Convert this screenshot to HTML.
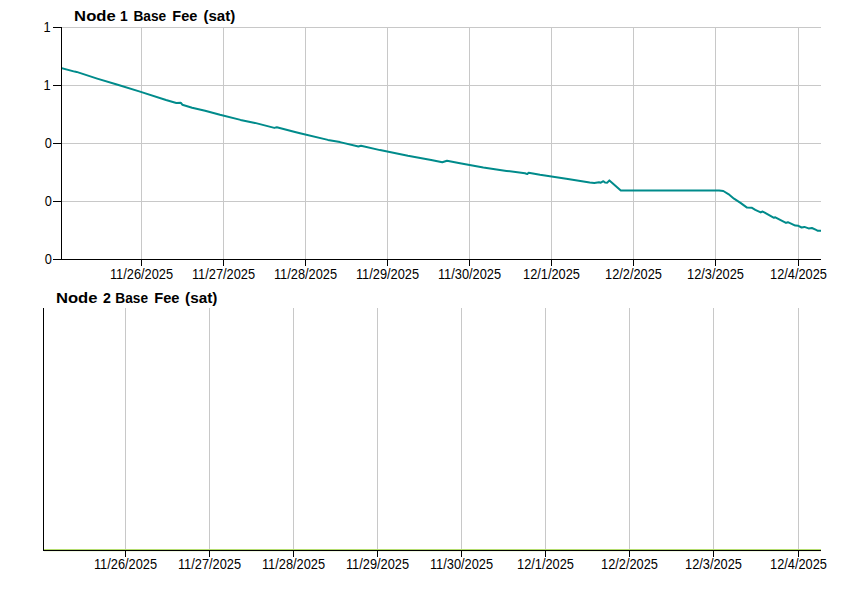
<!DOCTYPE html><html><head><meta charset="utf-8"><style>html,body{margin:0;padding:0;background:#fff;width:860px;height:600px;overflow:hidden}svg{display:block}text{font-family:"Liberation Sans",Arial,sans-serif;fill:#000}.t{font-weight:bold;font-size:15.4px}.l{font-size:14px}</style></head><body>
<svg width="860" height="600" viewBox="0 0 860 600">
<rect width="860" height="600" fill="#fff"/>
<g stroke="#c8c8c8" stroke-width="1" shape-rendering="crispEdges">
<line x1="141.5" y1="27" x2="141.5" y2="259"/>
<line x1="223.5" y1="27" x2="223.5" y2="259"/>
<line x1="305.5" y1="27" x2="305.5" y2="259"/>
<line x1="387.5" y1="27" x2="387.5" y2="259"/>
<line x1="469.5" y1="27" x2="469.5" y2="259"/>
<line x1="551.5" y1="27" x2="551.5" y2="259"/>
<line x1="633.5" y1="27" x2="633.5" y2="259"/>
<line x1="715.5" y1="27" x2="715.5" y2="259"/>
<line x1="798.5" y1="27" x2="798.5" y2="259"/>
<line x1="62" y1="27.5" x2="821" y2="27.5"/>
<line x1="62" y1="85.5" x2="821" y2="85.5"/>
<line x1="62" y1="143.5" x2="821" y2="143.5"/>
<line x1="62" y1="201.5" x2="821" y2="201.5"/>
<line x1="125.5" y1="308" x2="125.5" y2="550"/>
<line x1="209.5" y1="308" x2="209.5" y2="550"/>
<line x1="293.5" y1="308" x2="293.5" y2="550"/>
<line x1="377.5" y1="308" x2="377.5" y2="550"/>
<line x1="461.5" y1="308" x2="461.5" y2="550"/>
<line x1="545.5" y1="308" x2="545.5" y2="550"/>
<line x1="629.5" y1="308" x2="629.5" y2="550"/>
<line x1="713.5" y1="308" x2="713.5" y2="550"/>
<line x1="798.5" y1="308" x2="798.5" y2="550"/>
</g>
<defs><clipPath id="c1"><rect x="62" y="0" width="759" height="259"/></clipPath></defs>
<polyline clip-path="url(#c1)" points="61,67.9 74.6,71.6 76.6,71.9 97.2,78.6 117.7,84.8 140,91.6 166,100 176.3,103 180.9,102.8 182.3,104.7 192.1,107.7 205.1,110.7 220,114.8 240.5,119.9 255,122.9 274.3,127.9 276.8,127.3 295,132 300,133.3 327.9,139.9 340,142.1 358.4,146.5 361,145.7 380,150.1 407.9,155.8 431.2,160 442.3,162.3 447,160.7 460,163.3 483.3,167.5 506.5,170.9 525,173.2 527.3,174.1 528.6,172.7 540,174.8 567.9,179.1 585,181.8 589.7,182.6 594.3,182.9 599,182.3 600.8,182.7 603.4,181.2 605,182.5 607.3,182.7 609.4,180.4 620.8,190.4 719.1,190.4 723.3,191 728.4,194.1 734,198.7 740.5,202.9 747,207.6 751.6,207.7 755.3,209.9 760.7,212.4 762.6,211.5 764.7,212.7 774,217.8 775.3,217.3 786,222.9 787.9,222.2 790,223.1 795.3,225.6 798.4,225.8 801.6,227.5 804.4,226.9 808.6,228.4 811.9,228 815.6,229.7 817.9,230.8 821,230.8" fill="none" stroke="#008b8b" stroke-width="2" stroke-linejoin="round"/>
<line x1="44" y1="549.5" x2="821" y2="549.5" stroke="#b4dc6e" stroke-width="1" shape-rendering="crispEdges"/>
<line x1="44" y1="551.5" x2="821" y2="551.5" stroke="#f0f7e0" stroke-width="1" shape-rendering="crispEdges"/>
<g stroke="#000" stroke-width="1" shape-rendering="crispEdges">
<line x1="61.5" y1="27" x2="61.5" y2="260"/>
<line x1="61" y1="259.5" x2="821" y2="259.5"/>
<line x1="53" y1="27.5" x2="61" y2="27.5"/>
<line x1="53" y1="85.5" x2="61" y2="85.5"/>
<line x1="53" y1="143.5" x2="61" y2="143.5"/>
<line x1="53" y1="201.5" x2="61" y2="201.5"/>
<line x1="53" y1="259.5" x2="61" y2="259.5"/>
<line x1="141.5" y1="260" x2="141.5" y2="266"/>
<line x1="223.5" y1="260" x2="223.5" y2="266"/>
<line x1="305.5" y1="260" x2="305.5" y2="266"/>
<line x1="387.5" y1="260" x2="387.5" y2="266"/>
<line x1="469.5" y1="260" x2="469.5" y2="266"/>
<line x1="551.5" y1="260" x2="551.5" y2="266"/>
<line x1="633.5" y1="260" x2="633.5" y2="266"/>
<line x1="715.5" y1="260" x2="715.5" y2="266"/>
<line x1="798.5" y1="260" x2="798.5" y2="266"/>
<line x1="43.5" y1="308" x2="43.5" y2="551"/>
<line x1="43" y1="550.5" x2="821" y2="550.5"/>
<line x1="125.5" y1="551" x2="125.5" y2="557"/>
<line x1="209.5" y1="551" x2="209.5" y2="557"/>
<line x1="293.5" y1="551" x2="293.5" y2="557"/>
<line x1="377.5" y1="551" x2="377.5" y2="557"/>
<line x1="461.5" y1="551" x2="461.5" y2="557"/>
<line x1="545.5" y1="551" x2="545.5" y2="557"/>
<line x1="629.5" y1="551" x2="629.5" y2="557"/>
<line x1="713.5" y1="551" x2="713.5" y2="557"/>
<line x1="798.5" y1="551" x2="798.5" y2="557"/>
</g>
<text class="t" transform="translate(74.12,21) scale(1.081,1)">Node</text>
<text class="t" transform="translate(120.05,21) scale(0.900,1)">1</text>
<text class="t" transform="translate(133.41,21) scale(0.892,1)">Base</text>
<text class="t" transform="translate(172.36,21) scale(0.944,1)">Fee</text>
<text class="t" transform="translate(203.40,21) scale(0.978,1)">(sat)</text>
<text class="t" transform="translate(55.92,303) scale(1.081,1)">Node</text>
<text class="t" transform="translate(102.90,303) scale(0.925,1)">2</text>
<text class="t" transform="translate(115.31,303) scale(0.889,1)">Base</text>
<text class="t" transform="translate(154.25,303) scale(0.952,1)">Fee</text>
<text class="t" transform="translate(185.10,303) scale(0.997,1)">(sat)</text>
<text class="l" transform="translate(50.6,32) scale(0.915,1)" text-anchor="end">1</text>
<text class="l" transform="translate(50.6,90) scale(0.915,1)" text-anchor="end">1</text>
<text class="l" transform="translate(51.8,148) scale(0.915,1)" text-anchor="end">0</text>
<text class="l" transform="translate(51.8,206) scale(0.915,1)" text-anchor="end">0</text>
<text class="l" transform="translate(51.8,264) scale(0.915,1)" text-anchor="end">0</text>
<text class="l" transform="translate(141.5,279) scale(0.915,1)" text-anchor="middle">11/26/2025</text>
<text class="l" transform="translate(223.5,279) scale(0.915,1)" text-anchor="middle">11/27/2025</text>
<text class="l" transform="translate(305.5,279) scale(0.915,1)" text-anchor="middle">11/28/2025</text>
<text class="l" transform="translate(387.5,279) scale(0.915,1)" text-anchor="middle">11/29/2025</text>
<text class="l" transform="translate(469.5,279) scale(0.915,1)" text-anchor="middle">11/30/2025</text>
<text class="l" transform="translate(551.5,279) scale(0.915,1)" text-anchor="middle">12/1/2025</text>
<text class="l" transform="translate(633.5,279) scale(0.915,1)" text-anchor="middle">12/2/2025</text>
<text class="l" transform="translate(715.5,279) scale(0.915,1)" text-anchor="middle">12/3/2025</text>
<text class="l" transform="translate(798.5,279) scale(0.915,1)" text-anchor="middle">12/4/2025</text>
<text class="l" transform="translate(125.5,569) scale(0.915,1)" text-anchor="middle">11/26/2025</text>
<text class="l" transform="translate(209.5,569) scale(0.915,1)" text-anchor="middle">11/27/2025</text>
<text class="l" transform="translate(293.5,569) scale(0.915,1)" text-anchor="middle">11/28/2025</text>
<text class="l" transform="translate(377.5,569) scale(0.915,1)" text-anchor="middle">11/29/2025</text>
<text class="l" transform="translate(461.5,569) scale(0.915,1)" text-anchor="middle">11/30/2025</text>
<text class="l" transform="translate(545.5,569) scale(0.915,1)" text-anchor="middle">12/1/2025</text>
<text class="l" transform="translate(629.5,569) scale(0.915,1)" text-anchor="middle">12/2/2025</text>
<text class="l" transform="translate(713.5,569) scale(0.915,1)" text-anchor="middle">12/3/2025</text>
<text class="l" transform="translate(798.5,569) scale(0.915,1)" text-anchor="middle">12/4/2025</text>
</svg></body></html>
